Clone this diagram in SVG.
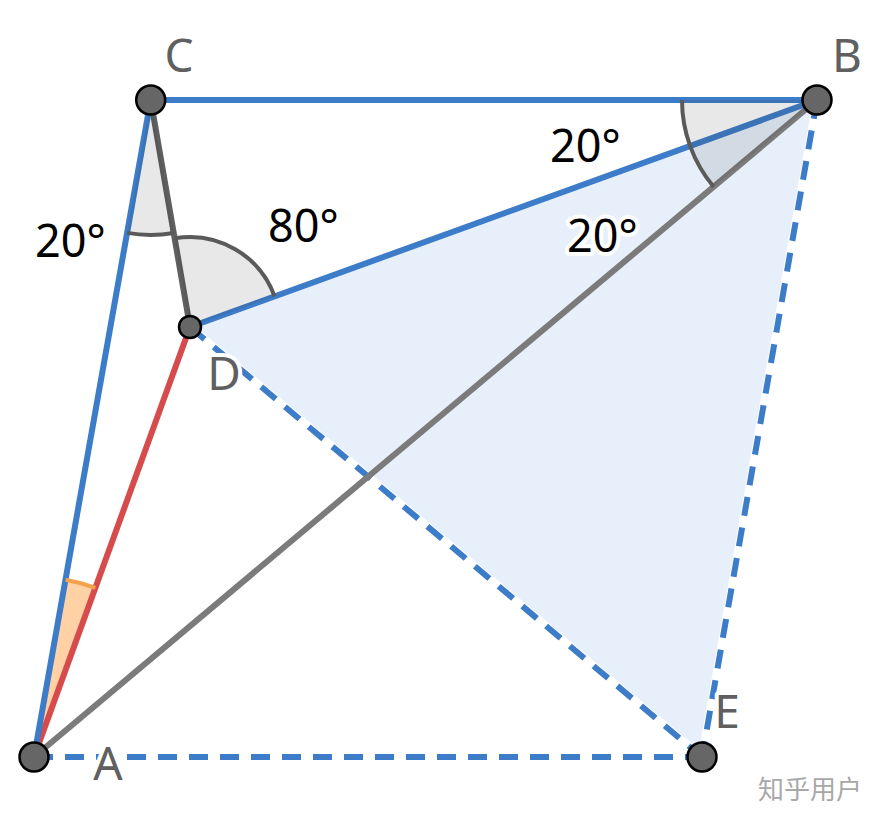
<svg xmlns="http://www.w3.org/2000/svg" width="889" height="819" viewBox="0 0 889 819">
<style>
.blue{stroke:#3d7cc8;stroke-width:6;fill:none;stroke-linecap:butt}
.dashbg{stroke:#ffffff;stroke-width:8;fill:none}
.dash{stroke:#3d7cc8;stroke-width:6;fill:none;stroke-dasharray:19 12}
.sector{fill:#2a2a2a;fill-opacity:0.11;stroke:none}
.arc{fill:none;stroke:#5a5a5a;stroke-width:4}
.pt{fill:#666666;stroke:#000000;stroke-width:2.5}
.lbl{font-family:"Noto Sans","Liberation Sans",sans-serif;font-size:46px;fill:#606060;paint-order:stroke;stroke:#ffffff;stroke-width:8;stroke-linejoin:round}
.ang{font-family:"Noto Sans","Liberation Sans",sans-serif;font-size:45px;fill:#000000}
.halo{paint-order:stroke;stroke:#ffffff;stroke-width:8;stroke-linejoin:round}
</style>
<rect width="889" height="819" fill="#ffffff"/>
<g id="fill-DBE">
<polygon points="190,327 817,100 702,757" fill="#e7f0fa"/>
</g>
<g id="angle-A">
<path d="M34,757 L65.5,579.8 A180,180 0 0 1 95.4,587.8 Z" fill="#ffc58f" fill-opacity="0.8"/>
</g>
<g id="connectors">
<line class="dashbg" x1="190" y1="327" x2="702" y2="757"/>
<line class="dash" x1="190" y1="327" x2="702" y2="757"/>
<line class="dashbg" x1="817" y1="100" x2="702" y2="757"/>
<line class="dash" x1="817" y1="100" x2="702" y2="757"/>
<line class="dashbg" x1="34" y1="757" x2="702" y2="757"/>
<line class="dash" x1="34" y1="757" x2="702" y2="757"/>
<line x1="34" y1="757" x2="817" y2="100" stroke="#7b7b7b" stroke-width="6"/>
<line x1="34" y1="757" x2="190" y2="327" stroke="#d64b4b" stroke-width="6"/>
<line class="blue" x1="150.7" y1="100" x2="817" y2="100"/>
<line class="blue" x1="150.7" y1="100" x2="34" y2="757"/>
<line class="blue" x1="190" y1="327" x2="817" y2="100"/>
<line x1="150.7" y1="100" x2="190" y2="327" stroke="#5f5f5f" stroke-width="6"/>
</g>
<g id="angle-arcs">
<path class="sector" d="M150.7,100 L127.1,232.9 A135,135 0 0 0 173.7,233 Z"/>
<path class="arc" d="M127.1,232.9 A135,135 0 0 0 173.7,233"/>
<path class="sector" d="M190,327 L174.6,238.3 A90,90 0 0 1 274.6,296.4 Z"/>
<path class="arc" d="M174.6,238.3 A90,90 0 0 1 274.6,296.4"/>
<path class="sector" d="M817,100 L682,100 A135,135 0 0 0 713.6,186.8 Z"/>
<path class="arc" d="M682,100 A135,135 0 0 0 713.6,186.8"/>
<path d="M65.5,579.8 A180,180 0 0 1 95.4,587.8" fill="none" stroke="#f5a04a" stroke-width="4"/>
</g>
<g id="node-C"><circle class="pt" cx="150.7" cy="100" r="14.5"/><text class="lbl" x="179" y="72" text-anchor="middle">C</text></g>
<g id="node-B"><circle class="pt" cx="817" cy="100" r="14.5"/><text class="lbl" x="847" y="72" text-anchor="middle">B</text></g>
<g id="node-D"><circle class="pt" cx="190" cy="327" r="11"/><text class="lbl" x="224" y="390" text-anchor="middle">D</text></g>
<g id="node-A"><circle class="pt" cx="34" cy="757" r="14.5"/><text class="lbl" x="108" y="780" text-anchor="middle">A</text></g>
<g id="node-E"><circle class="pt" cx="702" cy="757" r="14.5"/><text class="lbl" x="727" y="728" text-anchor="middle">E</text></g>
<g id="angle-labels">
<text class="ang" x="35" y="257">20°</text>
<text class="ang" x="268" y="242">80°</text>
<text class="ang" x="550" y="162">20°</text>
<text class="ang halo" x="567" y="252">20°</text>
</g>
<g id="watermark">
<text x="810" y="799" text-anchor="middle" font-family="'Noto Sans CJK SC',sans-serif" font-size="26" fill="#a8a8a8">知乎用户</text>
</g>
</svg>
